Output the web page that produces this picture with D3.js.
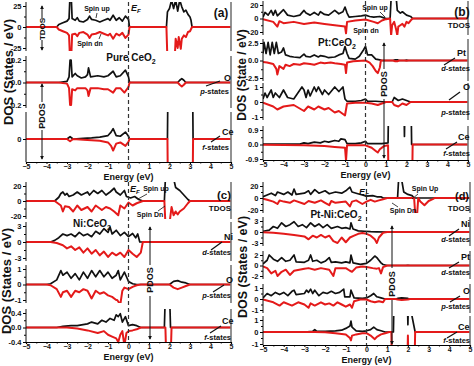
<!DOCTYPE html>
<html>
<head>
<meta charset="utf-8">
<script src="https://cdn.jsdelivr.net/npm/d3@7"></script>
<style>
body { margin:0; background:#fff; }
text { font-family:"Liberation Sans", Arial, sans-serif; font-weight:bold; fill:#111; }
</style>
</head>
<body>
<svg id="dos" width="474" height="366"></svg>
<script>
var energyTicks = [-5,-4,-3,-2,-1,0,1,2,3,4,5];

// (a) pure CeO2
var aTdosUp = [[-3.5,0],[-3.4,3],[-3.2,5],[-3.0,7],[-2.9,10],[-2.85,40],[-2.8,40],[-2.75,10],[-2.6,8],[-2.5,11],[-2.4,7],[-2.2,6],[-2.0,9],[-1.9,13],[-1.8,9],[-1.6,8],[-1.4,6],[-1.2,8],[-1.0,10],[-0.9,8],[-0.75,14],[-0.6,8],[-0.45,11],[-0.3,7],[-0.15,13],[0,9],[0.05,0],[1.85,0],[1.9,18],[2.0,22],[2.1,32],[2.2,22],[2.3,32],[2.4,19],[2.5,32],[2.6,24],[2.7,18],[2.8,20],[2.9,15],[3.0,12],[3.05,8],[3.1,0]];
var aTdosDn = [[-3.5,0],[-3.4,-3],[-3.2,-5],[-3.0,-7],[-2.9,-10],[-2.85,-40],[-2.8,-40],[-2.75,-9],[-2.6,-8],[-2.5,-11],[-2.4,-7],[-2.2,-6],[-2.0,-9],[-1.9,-13],[-1.8,-9],[-1.6,-8],[-1.4,-6],[-1.2,-8],[-1.0,-10],[-0.9,-8],[-0.75,-14],[-0.6,-8],[-0.45,-10],[-0.3,-7],[-0.15,-13],[0,-9],[0.05,0],[1.85,0],[1.9,-40],[2.25,-40],[2.3,-14],[2.4,-25],[2.45,-12],[2.55,-26],[2.6,-14],[2.7,-10],[2.8,-12],[2.9,-6],[3.0,-5],[3.1,0]];
var aOUp = [[-3.4,0],[-3.0,0.01],[-2.9,0.05],[-2.85,0.2],[-2.8,0.2],[-2.75,0.05],[-2.6,0.08],[-2.5,0.06],[-2.3,0.04],[-2.1,0.05],[-2.0,0.07],[-1.95,0.13],[-1.85,0.05],[-1.5,0.06],[-1.2,0.05],[-1.0,0.06],[-0.75,0.1],[-0.6,0.05],[-0.4,0.06],[-0.15,0.11],[0,0.05],[0.05,0],[2.4,0],[2.5,0.02],[2.6,0.035],[2.7,0.02],[2.8,0]];
var aODn = [[-3.4,0],[-3.0,-0.01],[-2.9,-0.05],[-2.85,-0.2],[-2.8,-0.2],[-2.75,-0.06],[-2.6,-0.07],[-2.5,-0.05],[-2.3,-0.05],[-2.1,-0.05],[-2.0,-0.07],[-1.95,-0.12],[-1.85,-0.05],[-1.5,-0.05],[-1.2,-0.06],[-1.0,-0.06],[-0.75,-0.09],[-0.6,-0.05],[-0.4,-0.05],[-0.2,-0.09],[0,-0.04],[0.05,0],[2.4,0],[2.5,-0.02],[2.6,-0.035],[2.7,-0.02],[2.8,0]];
var aCeUp = [[-3.0,0],[-2.85,0.1],[-2.7,0],[-2.2,0.03],[-1.8,0.05],[-1.4,0.08],[-1.0,0.15],[-0.85,0.3],[-0.75,0.45],[-0.6,0.15],[-0.4,0.12],[-0.15,0.3],[0,0.12],[0.05,0],[1.9,0],[1.95,5],[3.1,5],[3.15,0]];
var aCeDn = [[-3.0,0],[-2.85,-0.1],[-2.7,0],[-2.2,-0.03],[-1.8,-0.05],[-1.4,-0.08],[-1.0,-0.15],[-0.85,-0.3],[-0.75,-0.5],[-0.6,-0.2],[-0.4,-0.15],[-0.15,-0.3],[0,-0.12],[0.05,0],[1.9,0],[1.95,-5],[3.1,-5],[3.15,0]];

// (b) Pt:CeO2
var bTdosUp = [[-5,2],[-4.9,9],[-4.75,5],[-4.6,12],[-4.5,5],[-4.4,12],[-4.3,4],[-4.0,13],[-3.8,5],[-3.5,3],[-3.2,5],[-3.0,12],[-2.9,8],[-2.7,5],[-2.5,9],[-2.3,5],[-2.2,10],[-2.0,6],[-1.8,5],[-1.5,12],[-1.3,7],[-1.1,10],[-1.0,17],[-0.9,8],[-0.8,2],[-0.5,3],[-0.2,4],[0,5],[0.2,3],[0.4,2],[0.7,3],[0.9,1],[1.0,0],[1.2,0],[1.25,30],[1.5,30],[1.55,12],[1.7,8],[1.8,10],[2.0,5],[2.2,3],[2.3,0]];
var bTdosDn = [[-5,-1],[-4.5,-5],[-4.3,-12],[-4.2,-4],[-4.0,-7],[-3.5,-5],[-3.0,-8],[-2.5,-6],[-2.0,-8],[-1.5,-10],[-1.2,-11],[-1.0,-12],[-0.95,-22],[-0.9,-5],[-0.5,-3],[0,-1.5],[0.4,-5],[0.6,-7],[0.8,-3],[1.0,-1],[1.2,0],[1.25,-25],[1.3,-10],[1.4,-5],[1.5,-17],[1.55,-25],[1.6,-12],[1.7,-10],[1.8,-8],[1.9,-12],[2.0,-5],[2.1,-7],[2.2,-3],[2.3,0]];
var bPtUp = [[-5,1.0],[-4.95,2.6],[-4.85,1.0],[-4.75,2.6],[-4.65,0.8],[-4.55,2.6],[-4.45,1.0],[-4.35,2.6],[-4.25,1.0],[-4.1,1.2],[-4.0,1.8],[-3.9,0.8],[-3.7,0.6],[-3.5,0.5],[-3.2,0.4],[-3.0,0.9],[-2.9,0.6],[-2.7,0.5],[-2.5,0.8],[-2.3,0.5],[-2.2,0.7],[-2.0,0.6],[-1.8,0.4],[-1.5,0.5],[-1.3,0.8],[-1.1,1.0],[-1.0,2.0],[-0.9,1.0],[-0.8,0.3],[-0.5,0.2],[-0.3,0.6],[-0.1,1.5],[0,2.0],[0.1,0.8],[0.3,0.8],[0.5,0.2],[0.7,0.1],[0.8,0],[1.35,0],[1.45,0.1],[1.55,0.1],[1.65,0],[1.9,0],[2.0,0.05],[2.1,0]];
var bPtDn = [[-5,-0.2],[-4.8,-0.3],[-4.5,-0.5],[-4.35,-1.2],[-4.3,-2.0],[-4.2,-0.8],[-4.0,-1.2],[-3.9,-0.6],[-3.7,-0.8],[-3.5,-0.5],[-3.2,-0.6],[-3.0,-0.4],[-2.7,-0.5],[-2.5,-0.6],[-2.2,-0.3],[-2.0,-0.4],[-1.7,-0.3],[-1.5,-0.4],[-1.2,-0.5],[-1.0,-0.6],[-0.95,-1.8],[-0.9,-0.3],[-0.6,-0.1],[0,0],[0.2,-0.3],[0.35,-0.8],[0.5,-1.5],[0.6,-1.8],[0.7,-1.0],[0.75,0],[1.35,0],[1.45,-0.12],[1.55,-0.1],[1.65,0],[1.9,0],[2.0,-0.05],[2.1,0]];
var bOUp = [[-5,0.2],[-4.9,0.6],[-4.8,0.3],[-4.6,0.8],[-4.5,0.3],[-4.4,0.6],[-4.2,0.3],[-4.0,0.8],[-3.8,0.3],[-3.5,0.2],[-3.1,1.0],[-3.0,0.8],[-2.9,0.3],[-2.8,0.8],[-2.7,0.4],[-2.5,1.0],[-2.4,0.7],[-2.3,1.0],[-2.1,0.5],[-2.0,0.8],[-1.8,0.5],[-1.5,1.0],[-1.3,0.7],[-1.1,1.0],[-1.0,0.2],[-0.9,0.05],[-0.5,0.05],[-0.2,0.1],[0,0.2],[0.1,0.05],[0.5,0.05],[1.0,0],[1.3,0],[1.4,0.3],[1.6,0.1],[1.8,0.2],[2.0,0.1],[2.2,0]];
var bODn = [[-5,-0.05],[-4.5,-0.3],[-4.3,-0.5],[-4.0,-0.3],[-3.5,-0.2],[-3.0,-0.6],[-2.8,-0.3],[-2.5,-0.5],[-2.3,-0.3],[-2.0,-0.5],[-1.8,-0.4],[-1.5,-0.7],[-1.3,-0.6],[-1.1,-0.8],[-1.0,-0.9],[-0.9,-0.1],[-0.5,-0.05],[0,-0.05],[0.3,-0.1],[0.6,-0.2],[0.8,-0.1],[1.0,0],[1.3,0],[1.4,-0.2],[1.6,-0.3],[1.8,-0.1],[2.0,-0.2],[2.2,0]];
var bCeUp = [[-5,0.02],[-3.2,0.02],[-3.0,0.1],[-2.8,0.05],[-2.5,0.15],[-2.2,0.1],[-2.0,0.2],[-1.8,0.15],[-1.5,0.25],[-1.3,0.2],[-1.2,0.35],[-1.0,0.3],[-0.9,0.05],[-0.5,0.05],[-0.2,0.1],[0,0.2],[0.1,0.05],[0.5,0.05],[0.8,0.05],[1.1,0.1],[1.15,5],[1.85,5],[1.9,0.5],[1.95,5],[2.2,5],[2.25,0]];
var bCeDn = [[-5,-0.02],[-3.0,-0.05],[-2.0,-0.1],[-1.5,-0.15],[-1.0,-0.2],[-0.95,-1.0],[-0.9,-0.05],[0,-0.05],[0.3,-0.2],[0.5,-0.4],[0.6,-0.5],[0.7,-0.3],[0.9,-0.1],[1.1,-0.05],[1.15,-5],[2.25,-5],[2.3,0]];

// (c) Ni:CeO2
var cTdosUp = [[-3.6,0],[-3.4,5],[-3.3,10],[-3.2,12],[-3.1,8],[-3.0,10],[-2.9,6],[-2.7,8],[-2.5,12],[-2.3,8],[-2.0,12],[-1.9,8],[-1.7,14],[-1.5,10],[-1.3,14],[-1.1,8],[-0.9,12],[-0.7,17],[-0.6,12],[-0.4,8],[-0.2,14],[-0.1,6],[0.1,4],[0.3,6],[0.5,2],[0.7,0],[1.75,0],[1.8,30],[2.2,30],[2.3,18],[2.5,14],[2.7,8],[2.9,2],[3.0,0]];
var cTdosDn = [[-3.6,0],[-3.5,-2],[-3.3,-6],[-3.2,-14],[-3.1,-7],[-2.9,-8],[-2.7,-14],[-2.5,-6],[-2.3,-12],[-2.0,-8],[-1.8,-14],[-1.6,-6],[-1.3,-12],[-1.1,-8],[-0.9,-10],[-0.7,-14],[-0.5,-19],[-0.4,-6],[-0.2,-10],[0,-2],[0.2,-6],[0.4,-3],[0.6,-1],[0.7,0],[1.75,0],[1.8,-30],[2.0,-30],[2.1,-8],[2.2,-19],[2.3,-14],[2.4,-18],[2.5,-14],[2.7,-10],[2.9,-3],[3.0,0]];
var cNiUp = [[-3.8,0],[-3.6,0.3],[-3.4,0.8],[-3.2,1.5],[-3.0,1.2],[-2.8,1.5],[-2.6,1.0],[-2.4,1.8],[-2.2,1.2],[-2.0,1.5],[-1.8,1.0],[-1.6,2.0],[-1.4,1.5],[-1.2,2.5],[-1.0,1.8],[-0.9,2.8],[-0.8,1.5],[-0.6,2.2],[-0.4,1.2],[-0.2,1.8],[0,1.0],[0.2,1.6],[0.35,0.8],[0.45,1.5],[0.55,0]];
var cNiDn = [[-3.8,0],[-3.5,-0.2],[-3.2,-0.6],[-3.0,-1.2],[-2.8,-0.8],[-2.6,-1.5],[-2.4,-1.0],[-2.2,-2.0],[-2.0,-1.2],[-1.8,-2.2],[-1.6,-1.5],[-1.4,-2.5],[-1.2,-1.8],[-1.0,-2.8],[-0.8,-2.0],[-0.6,-2.5],[-0.4,-2.0],[-0.2,-2.8],[0,-1.5],[0.2,-2.2],[0.4,-2.8],[0.6,-2.0],[0.7,0]];
var cOUp = [[-4.0,0],[-3.8,0.05],[-3.5,0.3],[-3.3,0.9],[-3.2,0.6],[-3.0,0.8],[-2.8,0.4],[-2.6,0.7],[-2.4,0.3],[-2.2,0.8],[-2.0,0.4],[-1.8,0.9],[-1.6,0.5],[-1.4,0.9],[-1.2,0.5],[-1.0,0.8],[-0.8,0.4],[-0.6,0.6],[-0.5,0.9],[-0.4,0.3],[-0.2,0.8],[-0.1,0.5],[0,0.2],[0.2,0.05],[0.4,0],[2.0,0],[2.2,0.2],[2.4,0.25],[2.6,0.15],[2.8,0.1],[3.0,0]];
var cODn = [[-4.0,0],[-3.8,-0.05],[-3.5,-0.3],[-3.3,-0.8],[-3.2,-0.5],[-3.0,-0.4],[-2.8,-0.8],[-2.6,-0.4],[-2.4,-0.5],[-2.2,-0.3],[-2.0,-0.4],[-1.8,-0.9],[-1.6,-0.4],[-1.4,-0.6],[-1.2,-0.5],[-1.0,-0.7],[-0.8,-0.8],[-0.6,-1.0],[-0.55,-1.0],[-0.4,-1.3],[-0.3,-0.4],[-0.2,-0.2],[0,-0.3],[0.2,-0.15],[0.4,-0.05],[0.6,0],[2.0,0],[2.2,-0.2],[2.4,-0.3],[2.6,-0.2],[2.8,-0.1],[3.0,0]];
var cCeUp = [[-3.5,0],[-3.2,0.03],[-2.8,0.05],[-2.5,0.05],[-2.0,0.1],[-1.8,0.15],[-1.5,0.1],[-1.3,0.2],[-1.1,0.15],[-0.9,0.25],[-0.7,0.2],[-0.6,0.35],[-0.5,0.3],[-0.4,0.38],[-0.3,0.15],[-0.15,0.3],[0,0.05],[0.2,0.08],[0.4,0.05],[0.6,0],[1.75,0],[1.8,1],[2.0,1],[2.05,0]];
var cCeDn = [[-3.0,0],[-2.5,-0.03],[-2.0,-0.08],[-1.5,-0.15],[-1.2,-0.1],[-1.0,-0.2],[-0.8,-0.25],[-0.6,-0.3],[-0.5,-0.4],[-0.4,-0.2],[-0.3,-0.1],[-0.2,-0.5],[-0.1,-0.15],[0,-0.1],[0.2,-0.08],[0.4,-0.05],[0.6,0],[1.8,0],[1.85,-1],[2.05,-1],[2.1,0]];

// (d) Pt-Ni:CeO2
var dTdosUp = [[-5,2],[-4.8,5],[-4.6,8],[-4.4,4],[-4.3,10],[-4.0,6],[-3.8,10],[-3.6,5],[-3.5,15],[-3.4,6],[-3.0,8],[-2.8,12],[-2.7,6],[-2.5,14],[-2.3,8],[-2.0,12],[-1.8,7],[-1.5,10],[-1.2,8],[-1.0,12],[-0.8,18],[-0.7,10],[-0.5,8],[-0.2,5],[0,3],[0.3,4],[0.5,2],[0.7,2],[0.8,0],[1.5,0],[1.55,30],[1.7,30],[1.8,10],[2.0,6],[2.2,4],[2.3,0]];
var dTdosDn = [[-5,-1],[-4.8,-3],[-4.5,-6],[-4.3,-10],[-4.2,-4],[-4.0,-6],[-3.7,-8],[-3.5,-4],[-3.0,-10],[-2.8,-5],[-2.5,-8],[-2.2,-4],[-2.0,-8],[-1.8,-12],[-1.7,-5],[-1.5,-8],[-1.0,-6],[-0.8,-14],[-0.7,-6],[-0.5,-4],[-0.2,-10],[0,-6],[0.2,-3],[0.4,-6],[0.6,-4],[0.8,-2],[1.0,0],[2.3,0],[2.35,-25],[2.45,-25],[2.5,0],[2.6,-6],[2.8,-12],[3.0,-5],[3.2,-2],[3.3,0]];
var dNiUp = [[-5,0.2],[-4.7,0.5],[-4.5,1.5],[-4.3,1.0],[-4.1,2.5],[-3.9,1.5],[-3.7,2.0],[-3.5,2.8],[-3.3,1.5],[-3.1,2.0],[-2.9,1.2],[-2.7,2.5],[-2.5,1.5],[-2.3,2.2],[-2.1,1.2],[-1.9,2.0],[-1.7,1.0],[-1.4,1.5],[-1.2,1.0],[-1.0,1.2],[-0.8,0.8],[-0.75,2.5],[-0.65,0.8],[-0.4,0.3],[-0.1,0.2],[0.2,0.1],[0.5,0.05],[1.0,0]];
var dNiDn = [[-5,-0.05],[-4.5,-0.2],[-4.0,-0.5],[-3.5,-0.8],[-3.0,-1.2],[-2.8,-2.0],[-2.6,-1.0],[-2.4,-1.5],[-2.2,-0.8],[-2.0,-1.5],[-1.8,-1.0],[-1.6,-2.5],[-1.4,-3.0],[-1.2,-1.5],[-1.0,-2.8],[-0.8,-1.5],[-0.6,-1.0],[-0.4,-0.5],[-0.2,-0.3],[0,-0.5],[0.2,-1.0],[0.4,-2.0],[0.5,-3.0],[0.6,-1.5],[0.8,-0.2],[1.0,0]];
var dPtUp = [[-5,0.3],[-4.8,1.0],[-4.7,2.0],[-4.5,1.2],[-4.3,0.8],[-4.1,1.5],[-3.9,0.8],[-3.7,1.0],[-3.5,2.0],[-3.4,0.7],[-3.0,0.6],[-2.8,1.0],[-2.7,2.0],[-2.6,0.8],[-2.4,1.0],[-2.2,0.5],[-2.0,0.8],[-1.8,1.5],[-1.7,0.6],[-1.5,0.7],[-1.2,0.5],[-1.0,0.7],[-0.8,0.5],[-0.75,2.0],[-0.65,0.5],[-0.3,0.2],[0,0.4],[0.2,1.0],[0.4,1.8],[0.5,1.5],[0.6,1.0],[0.7,0.5],[0.8,0.2],[1.0,0],[1.9,0],[2.0,0.05],[2.1,0]];
var dPtDn = [[-5,-0.2],[-4.8,-0.5],[-4.6,-1.5],[-4.4,-1.0],[-4.3,-2.0],[-4.1,-1.2],[-3.9,-0.8],[-3.7,-1.8],[-3.5,-1.0],[-3.0,-0.6],[-2.8,-0.5],[-2.5,-0.8],[-2.2,-0.5],[-1.8,-0.8],[-1.6,-2.0],[-1.5,-0.5],[-1.0,-0.5],[-0.8,-1.0],[-0.7,-1.2],[-0.5,-0.4],[-0.2,-0.2],[0,-0.3],[0.3,-0.5],[0.5,-0.6],[0.6,-0.5],[0.7,-1.5],[0.8,-0.3],[1.0,0]];
var dOUp = [[-5,0.1],[-4.8,0.5],[-4.6,0.3],[-4.4,0.6],[-4.2,0.4],[-4.0,0.6],[-3.8,0.3],[-3.6,0.7],[-3.5,0.8],[-3.4,0.4],[-3.0,0.5],[-2.9,0.8],[-2.8,0.6],[-2.7,0.9],[-2.6,0.5],[-2.5,0.8],[-2.3,0.3],[-2.1,0.6],[-1.9,0.5],[-1.7,0.7],[-1.5,0.5],[-1.3,0.6],[-1.1,0.9],[-1.05,0.2],[-0.8,0.2],[-0.75,0.8],[-0.6,0.1],[-0.2,0.05],[0,0.1],[0.2,0.3],[0.35,0.5],[0.5,0.2],[0.7,0.1],[0.9,0],[1.4,0],[1.5,0.05],[1.7,0.1],[2.0,0.05],[2.1,0]];
var dODn = [[-5,-0.05],[-4.5,-0.3],[-4.2,-0.6],[-4.0,-0.3],[-3.6,-0.6],[-3.3,-0.3],[-3.0,-0.5],[-2.8,-0.8],[-2.7,-0.4],[-2.5,-0.6],[-2.2,-0.3],[-2.0,-0.5],[-1.8,-0.4],[-1.6,-0.6],[-1.4,-0.3],[-1.2,-0.5],[-1.0,-0.7],[-0.8,-0.5],[-0.7,-0.8],[-0.6,-0.2],[-0.3,-0.05],[0,-0.05],[0.2,-0.2],[0.4,-0.3],[0.6,-0.2],[0.8,-0.3],[0.9,0],[1.4,0],[1.5,-0.05],[1.7,-0.1],[2.0,-0.05],[2.1,0]];
var dCeUp = [[-3.0,0],[-2.6,0.05],[-2.5,0.2],[-2.4,0.05],[-2.0,0.05],[-1.5,0.1],[-1.2,0.15],[-1.0,0.3],[-0.8,0.5],[-0.75,0.9],[-0.7,0.4],[-0.5,0.1],[-0.2,0.05],[0,0.1],[0.2,0.2],[0.35,0.4],[0.5,0.2],[0.7,0.1],[0.9,0],[1.3,0],[1.35,5],[1.95,5],[2.0,0.6],[2.05,5],[2.15,5],[2.2,1.3],[2.35,0]];
var dCeDn = [[-2.5,0],[-2.0,-0.02],[-1.5,-0.1],[-1.0,-0.2],[-0.8,-0.5],[-0.75,-0.7],[-0.7,-0.3],[-0.5,-0.2],[-0.2,-0.1],[0,-0.1],[0.2,-0.3],[0.4,-0.6],[0.5,-0.4],[0.7,-0.2],[0.9,-0.1],[1.1,0],[1.2,0],[1.25,-5],[1.95,-5],[2.0,-0.3],[2.05,-5],[2.3,-5],[2.35,0]];

var black = "#111", red = "#e41a1a";

var panels = [
  {x0:26, x1:231, axisY:162, title:[13,72,"DOS (States / eV)",13], subs:[
    {up:aTdosUp, dn:aTdosDn, dom:[-25,25], px:[48,6], ticks:[25,0,-25], dec:0},
    {up:aOUp, dn:aODn, dom:[-0.2,0.2], px:[105,60], ticks:[0.2,0,-0.2], dec:1},
    {up:aCeUp, dn:aCeDn, dom:[-1,1], px:[162,116], ticks:[0], dec:0}]},
  {x0:263, x1:468, axisY:160, title:[246,75,"DOS (State / eV)",12], subs:[
    {up:bTdosUp, dn:bTdosDn, dom:[-20,20], px:[32,5], ticks:[20,0,-20], dec:0},
    {up:bPtUp, dn:bPtDn, dom:[-2.5,2.5], px:[78,43], ticks:[2.5,0,-2.5], dec:1},
    {up:bOUp, dn:bODn, dom:[-1,1], px:[117,87], ticks:[1,0,-1], dec:0},
    {up:bCeUp, dn:bCeDn, dom:[-0.9,0.9], px:[159,130], ticks:[0.9,0,-0.9], dec:1}]},
  {x0:26, x1:231, axisY:342, title:[11,281,"DOS (States / eV)",13], subs:[
    {up:cTdosUp, dn:cTdosDn, dom:[-20,20], px:[216,186], ticks:[20,0,-20], dec:0},
    {up:cNiUp, dn:cNiDn, dom:[-3,3], px:[258,226], ticks:[3,0,-3], dec:0},
    {up:cOUp, dn:cODn, dom:[-1,1], px:[300,269], ticks:[1,0,-1], dec:0},
    {up:cCeUp, dn:cCeDn, dom:[-0.4,0.4], px:[342,313], ticks:[0.4,0,-0.4], dec:1}]},
  {x0:263, x1:470, axisY:345, title:[247,267,"DOS (States / eV)",12.5], subs:[
    {up:dTdosUp, dn:dTdosDn, dom:[-20,20], px:[210,186], ticks:[20,0,-20], dec:0},
    {up:dNiUp, dn:dNiDn, dom:[-3,3], px:[243,221], ticks:[3,0,-3], dec:0},
    {up:dPtUp, dn:dPtDn, dom:[-2,2], px:[276,255], ticks:[2,0,-2], dec:0},
    {up:dOUp, dn:dODn, dom:[-1,1], px:[310,288], ticks:[1,0,-1], dec:0},
    {up:dCeUp, dn:dCeDn, dom:[-1,1], px:[344,320], ticks:[1,0,-1], dec:0}]}
];

var svg = d3.select("#dos");
var defs = svg.append("defs");
defs.append("marker").attr("id","arr").attr("viewBox","0 0 10 10").attr("refX",8).attr("refY",5)
  .attr("markerWidth",4).attr("markerHeight",4).attr("orient","auto-start-reverse")
  .append("path").attr("d","M0,0L10,5L0,10z").attr("fill","#111");

function pad(pts) {
  var s = pts.slice();
  if (s[0][0] > -5) s.unshift([-5,0]);
  if (s[s.length-1][0] < 5) s.push([5,0]);
  return s;
}

var clipId = 0;
panels.forEach(function(p) {
  var x = d3.scaleLinear().domain([-5,5]).range([p.x0, p.x1]);
  var n = p.subs.length;
  var topY = p.subs[0].px[1] - 4;

  p.subs.forEach(function(s, i) {
    var y = d3.scaleLinear().domain(s.dom).range(s.px);
    var cTop = s.px[1] - 4;
    var cBot = (i === n-1) ? p.axisY : s.px[0] + 3;
    var id = "clip" + (clipId++);
    defs.append("clipPath").attr("id", id).append("rect")
      .attr("x", p.x0).attr("y", cTop).attr("width", p.x1 - p.x0).attr("height", cBot - cTop);

    var line = d3.line().x(function(d){return x(d[0]);}).y(function(d){return y(d[1]);});
    var g = svg.append("g").attr("clip-path", "url(#" + id + ")");
    g.append("path").attr("d", line(pad(s.up))).attr("fill","none").attr("stroke",black)
      .attr("stroke-width",1.7).attr("stroke-linejoin","round");
    g.append("path").attr("d", line(pad(s.dn))).attr("fill","none").attr("stroke",red)
      .attr("stroke-width",2).attr("stroke-linejoin","round");

    // left axis with ticks
    var minor = [];
    for (var k = 0; k < s.ticks.length - 1; k++) minor.push((s.ticks[k] + s.ticks[k+1]) / 2);
    var ax = svg.append("g").attr("transform","translate(" + p.x0 + ",0)")
      .call(d3.axisLeft(y).tickValues(s.ticks).tickSize(3).tickPadding(1.5)
        .tickFormat(function(v){ return v.toFixed(s.dec); }));
    ax.select(".domain").remove();
    ax.selectAll("text").style("font-size","7.5px");
    var axm = svg.append("g").attr("transform","translate(" + p.x0 + ",0)")
      .call(d3.axisLeft(y).tickValues(minor).tickSize(2).tickFormat(""));
    axm.select(".domain").remove();
    svg.append("line").attr("x1",p.x0).attr("x2",p.x0).attr("y1",cTop).attr("y2",cBot)
      .attr("stroke",black).attr("stroke-width",1);
    svg.append("line").attr("x1",p.x1).attr("x2",p.x1).attr("y1",cTop).attr("y2",cBot)
      .attr("stroke","#777").attr("stroke-width",1.6);
  });

  // Fermi level
  svg.append("line").attr("x1",x(0)).attr("x2",x(0)).attr("y1",topY).attr("y2",p.axisY)
    .attr("stroke","#333").attr("stroke-width",1.2).attr("stroke-dasharray","4,3");

  // energy axis
  var xa = svg.append("g").attr("transform","translate(0," + p.axisY + ")")
    .call(d3.axisBottom(x).tickValues(energyTicks).tickSize(2).tickPadding(0));
  xa.selectAll("text").style("font-size","7px");
  xa.select(".domain").attr("stroke-width",1.2);
  var halves = energyTicks.slice(1).map(function(v){ return v - 0.5; });
  svg.append("g").attr("transform","translate(0," + p.axisY + ")")
    .call(d3.axisBottom(x).tickValues(halves).tickSize(1.5).tickFormat(""))
    .select(".domain").remove();
  svg.append("text").attr("x", x(0)).attr("y", p.axisY + 18).attr("text-anchor","middle")
    .style("font-size","9px").text("Energy (eV)");

  svg.append("text").attr("transform","translate(" + p.title[0] + "," + p.title[1] + ") rotate(-90)")
    .attr("text-anchor","middle").style("font-size", p.title[3] + "px").text(p.title[2]);
});

// annotations
function txt(x, y, s, size, anchor) {
  return svg.append("text").attr("x",x).attr("y",y).attr("text-anchor",anchor || "start")
    .style("font-size", size + "px").text(s);
}
function vtxt(x, y, s, size) {
  return svg.append("text").attr("transform","translate(" + x + "," + y + ") rotate(-90)")
    .attr("text-anchor","middle").attr("dy","0.35em").style("font-size", size + "px").text(s);
}
function ln(x1, y1, x2, y2, arrow, w) {
  var l = svg.append("line").attr("x1",x1).attr("y1",y1).attr("x2",x2).attr("y2",y2)
    .attr("stroke","#111").attr("stroke-width", w || 1);
  if (arrow) l.attr("marker-end","url(#arr)");
  return l;
}
function formula(x, y, pre, size) {
  var t = txt(x, y, pre, size, "middle");
  t.append("tspan").attr("dy", 2.5).style("font-size", (size*0.7) + "px").text("2");
  return t;
}
function ef(x, y) {
  var t = txt(x, y, "", 9, "start");
  t.append("tspan").style("font-style","italic").text("E");
  t.append("tspan").attr("dy", 2).style("font-size","6px").style("font-style","italic").text("F");
}
function state(x, y, letter, anchor) {
  var t = txt(x, y, "", 7.5, anchor || "end");
  t.append("tspan").style("font-style","italic").text(letter);
  t.append("tspan").text("-states");
}

// (a)
txt(221, 17, "(a)", 12, "middle");
ef(131, 11);
txt(97, 11, "Spin up", 7, "middle"); ln(97, 13, 96, 18, false, 0.8);
txt(90, 46, "Spin dn", 7, "middle"); ln(99, 39, 101, 34, false, 0.8);
vtxt(42, 29, "TDOS", 8); ln(42, 19, 42, 6, true); ln(42, 40, 42, 50, true);
formula(131, 61, "Pure CeO", 10);
txt(224, 81, "O", 9); ln(220, 81, 206, 86, false, 1.2); state(229, 94, "p");
txt(222, 135, "Ce", 9); ln(220, 136, 211, 142, false, 1.2); state(229, 150, "f");
vtxt(42, 116, "PDOS", 9); ln(42, 102, 42, 84, true); ln(42, 130, 42, 159, true);

// (b)
txt(462, 16, "(b)", 12, "middle");
txt(375, 10, "Spin up", 7, "middle"); ln(380, 12, 385, 17, false, 0.8);
txt(366, 33, "Spin dn", 7, "middle"); ln(365, 27, 366, 22, false, 0.8);
txt(470, 28, "TDOS", 8, "end");
formula(337, 46, "Pt:CeO", 10);
txt(457, 56, "Pt", 9); ln(455, 58, 444, 65, false, 1.2); state(470, 71, "d");
txt(463, 90, "O", 9); ln(460, 92, 449, 100, false, 1.2); state(470, 115, "p");
txt(458, 140, "Ce", 9); ln(457, 142, 446, 149, false, 1.2); state(470, 156, "f");
vtxt(384, 84, "PDOS", 9); ln(384, 69, 384, 43, true); ln(384, 99, 384, 158, true);

// (c)
txt(224, 199, "(c)", 11.5, "middle");
ef(130, 192);
txt(156, 191, "Spin up", 7, "middle"); ln(147, 194, 138, 199, false, 0.8);
txt(150, 217, "Spin Dn", 7, "middle"); ln(158, 211, 165, 206, false, 0.8);
txt(231, 211, "TDOS", 8, "end");
formula(92, 227, "Ni:CeO", 10);
txt(224, 240, "Ni", 9); ln(222, 242, 211, 250, false, 1.2); state(231, 255, "d");
txt(226, 283, "O", 9); ln(224, 285, 213, 292, false, 1.2); state(231, 298, "p");
txt(222, 324, "Ce", 9); ln(221, 326, 210, 333, false, 1.2); state(231, 340, "f");
vtxt(150, 280, "PDOS", 9); ln(150, 265, 150, 227, true); ln(150, 296, 150, 339, true);

// (d)
txt(462, 200, "(d)", 11, "middle");
ef(359, 195);
txt(425, 191, "Spin Up", 7, "middle"); ln(418, 194, 412, 199, false, 0.8);
txt(403, 213, "Spin Dn", 7, "middle"); ln(398, 207, 392, 203, false, 0.8);
txt(470, 211, "TDOS", 8, "end");
formula(336, 218, "Pt-Ni:CeO", 10);
txt(461, 227, "Ni", 9); ln(459, 229, 449, 236, false, 1.2); state(470, 242, "d");
txt(461, 260, "Pt", 9); ln(459, 262, 449, 268, false, 1.2); state(470, 275, "d");
txt(463, 294, "O", 9); ln(460, 296, 450, 302, false, 1.2); state(470, 309, "p");
txt(458, 330, "Ce", 9); ln(457, 332, 447, 338, false, 1.2); state(470, 343, "f");
vtxt(392, 284, "PDOS", 9); ln(392, 268, 392, 226, true); ln(392, 300, 392, 344, true);
</script>
</body>
</html>
